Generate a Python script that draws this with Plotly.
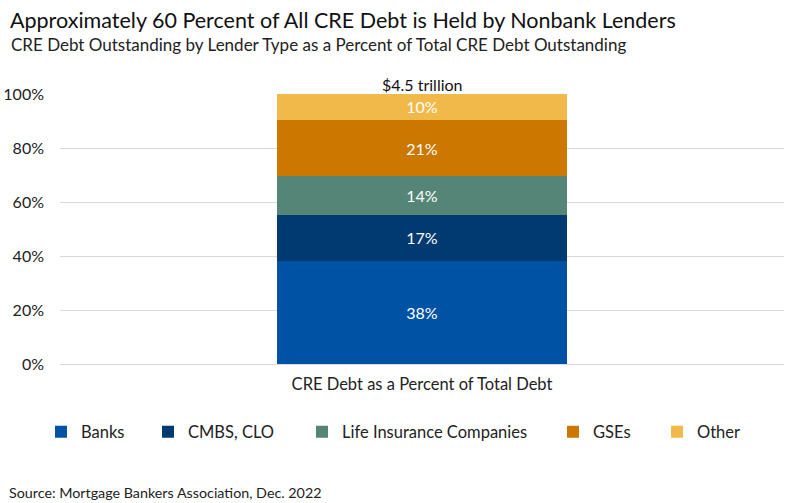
import plotly.graph_objects as go

categories = ["CRE Debt as a Percent of Total Debt"]
series_names = ["Banks", "CMBS, CLO", "Life Insurance Companies", "GSEs", "Other"]
banks = [38.3]
cmbs = [16.9]
life = [14.4]
gses = [20.8]
other = [9.6]
total_label = "$4.5 trillion"
tick_values = [0, 20, 40, 60, 80, 100]
tick_labels = ["0%", "20%", "40%", "60%", "80%", "100%"]
colors = ["#0052A5", "#003A70", "#548577", "#CC7700", "#F0B94A"]

FONT = "Lato"
values = [banks, cmbs, life, gses, other]
legend_text_x = [82, 189, 343, 594, 698]

W, H = 787, 503
L, R, T, B = 60, 3, 94, 139
PW, PH = W - L - R, H - T - B


def px(x):
    return (x - L) / PW


def py(y):
    return (H - B - y) / PH


fig = go.Figure()
for i, (name, vals, col) in enumerate(zip(series_names, values, colors)):
    lg = "legend" if i == 0 else f"legend{i+1}"
    fig.add_trace(go.Bar(
        x=categories, y=vals, name=name, marker_color=col,
        marker_line_width=0,
        texttemplate="%{y:.0f}%", textposition="inside", insidetextanchor="middle",
        textfont=dict(color="white", size=16, family=FONT),
        legend=lg, hoverinfo="skip",
    ))

layout_legends = {}
for i, tx in enumerate(legend_text_x):
    key = "legend" if i == 0 else f"legend{i+1}"
    layout_legends[key] = dict(
        x=px(tx - 41), y=py(432), xref="paper", yref="paper",
        xanchor="left", yanchor="middle",
        font=dict(size=16.5, family=FONT, color="#222"),
        bgcolor="rgba(0,0,0,0)", itemclick=False, itemdoubleclick=False,
    )

fig.update_layout(
    barmode="stack",
    width=W, height=H,
    margin=dict(l=L, r=R, t=T, b=B),
    plot_bgcolor="white", paper_bgcolor="white",
    bargap=0.6,
    font=dict(family=FONT, color="#222"),
    showlegend=True,
    **layout_legends,
)
fig.update_yaxes(
    range=[0, 100], tickmode="array", tickvals=tick_values, ticktext=tick_labels,
    showgrid=True, gridcolor="#d9d9d9", gridwidth=1,
    zeroline=True, zerolinecolor="#d9d9d9", zerolinewidth=1,
    tickfont=dict(size=16, family=FONT, color="#222"),
    ticklabelstandoff=15, fixedrange=True,
)
fig.update_xaxes(
    tickfont=dict(size=16.5, family=FONT, color="#222"),
    showline=False, ticks="", fixedrange=True, ticklabelstandoff=8,
)

fig.add_annotation(text="Approximately 60 Percent of All CRE Debt is Held by Nonbank Lenders",
                   x=px(8), y=py(20), xref="paper", yref="paper",
                   xanchor="left", yanchor="middle", showarrow=False,
                   font=dict(size=21.5, family=FONT, color="#111"))
fig.add_annotation(text="CRE Debt Outstanding by Lender Type as a Percent of Total CRE Debt Outstanding",
                   x=px(9), y=py(45), xref="paper", yref="paper",
                   xanchor="left", yanchor="middle", showarrow=False,
                   font=dict(size=17, family=FONT, color="#222"))
fig.add_annotation(text="Source: Mortgage Bankers Association, Dec. 2022",
                   x=px(7), y=py(492), xref="paper", yref="paper",
                   xanchor="left", yanchor="middle", showarrow=False,
                   font=dict(size=14.3, family=FONT, color="#222"))
fig.add_annotation(text=total_label, x=categories[0], y=100, xref="x", yref="y",
                   yanchor="bottom", showarrow=False, yshift=-2,
                   font=dict(size=16, family=FONT, color="#111"))

fig.write_html("out.html")
